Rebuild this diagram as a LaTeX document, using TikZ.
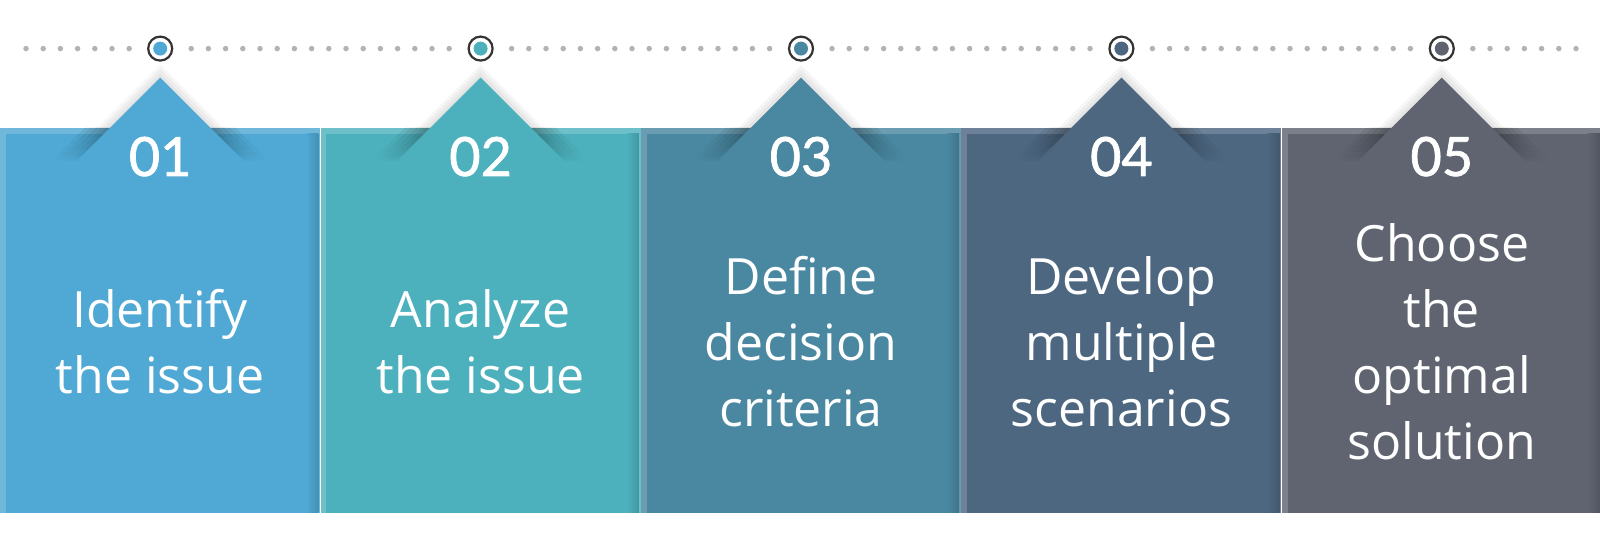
\documentclass[tikz,border=0pt]{standalone}
\usepackage{fontspec}
\setmainfont{Open Sans}
\newfontfamily\numfont[FakeBold=1.3]{Lato}
\usetikzlibrary{positioning, calc, fadings}

\definecolor{stepA}{HTML}{4FA9D4}
\definecolor{stepB}{HTML}{4DB1BD}
\definecolor{stepC}{HTML}{4A88A1}
\definecolor{stepD}{HTML}{4D6781}
\definecolor{stepE}{HTML}{5F6470}
\definecolor{dotgray}{HTML}{B3B3B3}
\definecolor{ringgray}{HTML}{333333}

\tikzfading[name=flapfade, top color=transparent!0, bottom color=transparent!100]

\begin{document}
\begin{tikzpicture}[
    x=1pt, y=1pt,
    panel/.style={rectangle, inner sep=0pt, minimum width=320pt, minimum height=385pt},
    num/.style={text=white, font=\numfont\fontsize{54}{54}\selectfont},
    steptext/.style={text=white, align=center, font=\fontsize{50}{66}\selectfont},
    dot/.style={circle, fill=dotgray, inner sep=0pt, minimum size=5.5pt},
    marker/.style={circle, draw=ringgray, line width=2.2pt, minimum size=24pt, inner sep=0pt},
    inner/.style={circle, inner sep=0pt, minimum size=14pt}
]
\useasboundingbox (0,0) rectangle (1600,545);

% Panels (outer frame a bit lighter)
\node[panel, anchor=south west, fill=stepA!82!white] (p1) at (0,32) {};
\node[panel, right=0pt of p1, fill=stepB!82!white] (p2) {};
\node[panel, right=0pt of p2, fill=stepC!82!white] (p3) {};
\node[panel, right=0pt of p3, fill=stepD!82!white] (p4) {};
\node[panel, right=0pt of p4, fill=stepE!82!white] (p5) {};

% Cards inside the panels
\foreach \i/\c in {1/stepA, 2/stepB, 3/stepC, 4/stepD, 5/stepE} {
  \fill[\c] ($(p\i.south west)+(6,0)$) rectangle ($(p\i.north east)+(-2,-6)$);
  \shade[left color=\c, right color=\c!85!black] ($(p\i.south east)+(-14,0)$) rectangle ($(p\i.north east)+(-2,-6)$);
}

% Timeline markers
\node[marker] (m1) at ($(p1.north)+(0,79)$) {};
\node[marker] (m2) at ($(p2.north)+(0,79)$) {};
\node[marker] (m3) at ($(p3.north)+(0,79)$) {};
\node[marker] (m4) at ($(p4.north)+(0,79)$) {};
\node[marker] (m5) at ($(p5.north)+(0,79)$) {};
\node[inner, fill=stepA] at (m1) {};
\node[inner, fill=stepB] at (m2) {};
\node[inner, fill=stepC] at (m3) {};
\node[inner, fill=stepD] at (m4) {};
\node[inner, fill=stepE] at (m5) {};

% Dotted line
\foreach \j in {0,...,6} {
  \node[dot] at ($(m1)+(-31-17.2*\j,0)$) {};
  \node[dot] at ($(m5)+(31+17.2*\j,0)$) {};
}
\foreach \k in {1,...,4} {
  \foreach \j in {0,...,15} {
    \node[dot] at ($(m\k)+(31+17.2*\j,0)$) {};
  }
}

% Flaps with their shadows
\foreach \i/\c in {1/stepA, 2/stepB, 3/stepC, 4/stepD, 5/stepE} {
  \path (p\i.north) coordinate (top);
  \foreach \o in {3,6,9} {
    \fill[black, opacity=0.035] ($(top)+(0,50+1.414*\o)$) -- ($(top)+(-50-1.414*\o,0)$) -- ($(top)+(50+1.414*\o,0)$) -- cycle;
  }
  \foreach \o in {3,6,10,14,18} {
    \fill[black, opacity=0.07, path fading=flapfade] ($(top)+(-50-1.414*\o,0)$) -- ($(top)+(50+1.414*\o,0)$) -- ($(top)+(84+1.414*\o,-34)$) -- ($(top)+(-84-1.414*\o,-34)$) -- cycle;
  }
  \fill[\c] ($(top)+(0,50)$) -- ($(top)+(-84,-34)$) -- ($(top)+(84,-34)$) -- cycle;
}

% Numbers
\node[num] (n1) at ($(p1.north)+(0,-29)$) {01};
\node[num] (n2) at ($(p2.north)+(0,-29)$) {02};
\node[num] (n3) at ($(p3.north)+(0,-29)$) {03};
\node[num] (n4) at ($(p4.north)+(0,-29)$) {04};
\node[num] (n5) at ($(p5.north)+(0,-29)$) {05};

% Step texts
\node[steptext] (t1) at ($(p1.south)+(0,171)$) {Identify\\the issue};
\node[steptext] (t2) at ($(p2.south)+(0,171)$) {Analyze\\the issue};
\node[steptext] (t3) at ($(p3.south)+(0,171)$) {Define\\decision\\criteria};
\node[steptext] (t4) at ($(p4.south)+(0,171)$) {Develop\\multiple\\scenarios};
\node[steptext] (t5) at ($(p5.south)+(0,171)$) {Choose\\the\\optimal\\solution};

\end{tikzpicture}
\end{document}
